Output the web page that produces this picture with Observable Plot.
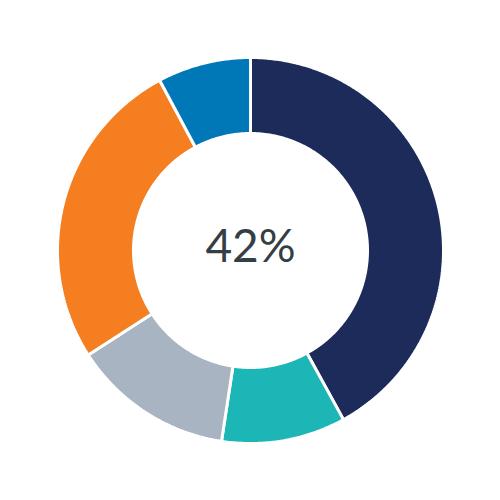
<!DOCTYPE html>
<html>
<head>
<meta charset="utf-8">
<script src="https://cdn.jsdelivr.net/npm/d3@7"></script>
<script src="https://cdn.jsdelivr.net/npm/@observablehq/plot@0.6"></script>
<style>
  html, body { margin: 0; padding: 0; background: #fff; }
  #chart { width: 500px; height: 500px; }
</style>
</head>
<body>
<div id="chart"></div>
<script>
const categories = ["Segment A", "Segment B", "Segment C", "Segment D", "Segment E"];
const values = [42, 10.4, 13.5, 26.3, 7.8];
const colors = ["#1c2b5a", "#1db6b7", "#a9b4c2", "#f47e20", "#0077b6"];
const centerLabel = "42%";

const innerRatio = 117 / 193;
const total = d3.sum(values);
const points = [];
let cum = 0;
categories.forEach((c, i) => {
  const a0 = cum / total * 2 * Math.PI;
  cum += values[i];
  const a1 = cum / total * 2 * Math.PI;
  const n = Math.max(4, Math.ceil((a1 - a0) / (Math.PI / 360)));
  for (let k = 0; k <= n; k++) {
    const a = a0 + (a1 - a0) * k / n;
    points.push({cat: c, x: Math.sin(a), y: Math.cos(a)});
  }
  for (let k = n; k >= 0; k--) {
    const a = a0 + (a1 - a0) * k / n;
    points.push({cat: c, x: innerRatio * Math.sin(a), y: innerRatio * Math.cos(a)});
  }
  points.push({cat: c, x: Math.sin(a0), y: Math.cos(a0)});
});

const chart = Plot.plot({
  width: 500,
  height: 500,
  marginTop: 57, marginBottom: 57, marginLeft: 57, marginRight: 57,
  x: {domain: [-1, 1], axis: null},
  y: {domain: [-1, 1], axis: null},
  color: {domain: categories, range: colors},
  marks: [
    Plot.line(points, {x: "x", y: "y", z: "cat", fill: "cat", stroke: "white", strokeWidth: 3, strokeLinejoin: "miter"}),
    Plot.text([centerLabel], {x: () => 0, y: () => 0, text: d => d, fontSize: 46, fontWeight: 400, fill: "#363e45", fontFamily: "Lato, 'Open Sans', sans-serif", dy: -3})
  ]
});
document.getElementById("chart").appendChild(chart);
</script>
</body>
</html>
